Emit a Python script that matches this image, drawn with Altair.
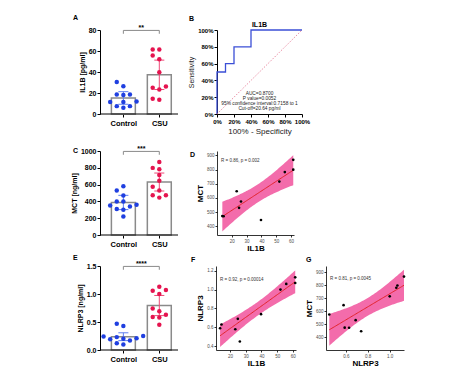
import altair as alt
import numpy as np
import pandas as pd

FONT = "Liberation Sans"

groups = ["Control", "CSU"]

# strip / bar panels (A, C, E)
il1b_control = [30.5, 26.5, 18.5, 18.5, 18.0, 12.0, 11.5, 11.5, 7.5, 7.5, 6.0]
mct_control = [580, 530, 470, 400, 400, 360, 350, 340, 310, 300, 220]
nlrp3_control = [0.47, 0.43, 0.25, 0.24, 0.23, 0.21, 0.20, 0.19, 0.17, 0.12, 0.10]

il1b_csu = [13.6, 14.5, 23.3, 24.9, 26.2, 39.7, 52.1, 55.8, 61.5, 61.5]
mct_csu = [473, 472, 647, 531, 575, 445, 715, 782, 799, 868]
nlrp3_csu = [0.59, 0.63, 0.58, 0.69, 0.45, 0.74, 1.00, 1.06, 1.07, 1.13]

il1b_err = [6.0, 14.0]
mct_err = [85, 107]
nlrp3_err = [0.07, 0.18]

# ROC panel (B)
roc_fpr = [0, 0, 0.1, 0.1, 0.2, 0.2, 0.4, 0.4, 1.0]
roc_tpr = [0, 0.5, 0.5, 0.6, 0.6, 0.8, 0.8, 1.0, 1.0]
roc_title = "IL1B"
roc_text = ["AUC=0.8700", "P value=0.0052",
            "95% confidence interval:0.7158 to 1", "Cut-off=20.64 pg/ml"]

# correlation notes
note_d = "R = 0.86, p = 0.002"
note_f = "R = 0.92, p = 0.00014"
note_g = "R = 0.81, p = 0.0045"

BLUE = "#1f3fe0"
RED = "#e5144f"
BLUE_ERR = "#5f7ff0"
RED_ERR = "#ee4a78"
PINK = "#f25ca2"
LINE_RED = "#e3242b"
ROC_BLUE = "#3b4fd6"
T_975_DF8 = 2.306


def swarm_offsets(values, px_per_unit, step_px=6.6, diam_px=5.4):
    order = np.argsort(values, kind="stable")
    placed = []
    offs = [0] * len(values)
    cands = [0]
    for m in range(1, 8):
        cands += [-m, m]
    for i in order:
        ypx = values[i] * px_per_unit
        chosen = cands[-1]
        for k in cands:
            if all(np.hypot((k - pk) * step_px, ypx - py) >= diam_px for pk, py in placed):
                chosen = k
                break
        placed.append((chosen, ypx))
        offs[i] = chosen
    return offs


def text_layer(txt, x, y, size=7, bold=True, align="left"):
    return alt.Chart(pd.DataFrame({"t": [txt]})).mark_text(
        align=align, baseline="middle", fontWeight="bold" if bold else "normal",
        fontSize=size, font=FONT, color="black"
    ).encode(x=alt.value(x), y=alt.value(y), text="t:N")


def strip_panel(letter, ctrl, csu, err, ymax, ystep, yfmt, ytitle, stars, ly, extra=0):
    W, H = 78, 84
    xdom0 = [-0.65, 1.52]
    pxx = W / (xdom0[1] - xdom0[0])
    xdom = [xdom0[0], xdom0[1] + extra / pxx]
    pxy = H / ymax
    step_units = 6.6 / pxx
    rows = []
    for gi, vals in enumerate([ctrl, csu]):
        offs = swarm_offsets(vals, pxy)
        for v, k in zip(vals, offs):
            rows.append({"x": gi + k * step_units, "y": v, "g": groups[gi]})
    pts = pd.DataFrame(rows)
    means = [float(np.mean(ctrl)), float(np.mean(csu))]
    bars = pd.DataFrame({"g": groups, "i": [0, 1], "mean": means, "err": err,
                         "ec": [BLUE_ERR, RED_ERR]})
    bars["lo"] = bars["i"] - 0.333
    bars["hi"] = bars["i"] + 0.333
    bars["top"] = bars["mean"] + bars["err"]
    bars["bot"] = bars["mean"] - bars["err"]
    bars["cl"] = bars["i"] - 0.14
    bars["cr"] = bars["i"] + 0.14

    xsc = alt.Scale(domain=xdom, nice=False, zero=False)
    ysc = alt.Scale(domain=[0, ymax], nice=False)
    label_expr = f"datum.value == 0 ? '{groups[0]}' : '{groups[1]}'"
    xaxis = alt.Axis(values=[0, 1], labelExpr=label_expr, title=None, grid=False,
                     labelFontSize=7.5, labelFontWeight="bold", labelColor="black",
                     tickSize=3, tickColor="black", domain=False, labelPadding=2,
                     labelOverlap=False, labelFlush=False)
    yvals = [float(v) for v in np.arange(0, ymax + ystep / 2, ystep)]
    yaxis = alt.Axis(values=yvals, format=yfmt, title=ytitle, grid=False,
                     labelFontSize=7, labelFontWeight="bold", labelColor="black",
                     titleFontSize=7, titleFontWeight="bold", titleColor="black",
                     tickSize=3, tickColor="black", domainColor="black",
                     labelPadding=1, titlePadding=3, labelOverlap=False, labelFlush=False)
    color = alt.Color("g:N", scale=alt.Scale(domain=groups, range=[BLUE, RED]), legend=None)
    ecolor = alt.Color("ec:N", scale=None)
    xs = dict(scale=xsc, axis=xaxis)
    ys = dict(scale=ysc, axis=yaxis)

    bar = alt.Chart(bars).mark_bar(fill="white", stroke="#8a8a8a", strokeWidth=1.5).encode(
        x=alt.X("lo:Q", **xs), x2="hi:Q", y=alt.Y("mean:Q", **ys), y2=alt.datum(0))
    baseline = alt.Chart(pd.DataFrame({"a": [0]})).mark_rule(color="black", strokeWidth=1).encode(
        x=alt.value(0), x2=alt.value(W), y=alt.value(H))
    ev = alt.Chart(bars).mark_rule(strokeWidth=1).encode(
        x=alt.X("i:Q", **xs), y=alt.Y("bot:Q", **ys), y2="top:Q", color=ecolor)
    ec1 = alt.Chart(bars).mark_rule(strokeWidth=1).encode(
        x=alt.X("cl:Q", **xs), x2="cr:Q", y=alt.Y("top:Q", **ys), color=ecolor)
    ec2 = alt.Chart(bars).mark_rule(strokeWidth=1).encode(
        x=alt.X("cl:Q", **xs), x2="cr:Q", y=alt.Y("bot:Q", **ys), color=ecolor)
    dots = alt.Chart(pts).mark_circle(size=20, opacity=1).encode(
        x=alt.X("x:Q", **xs), y=alt.Y("y:Q", **ys), color=color)

    by = ymax * 0.995
    bd = ymax * 0.04
    br = pd.DataFrame({"x": [0, 0, 1, 1], "y": [by - bd, by, by, by - bd], "o": [0, 1, 2, 3]})
    bracket = alt.Chart(br).mark_line(color="#8a8a8a", strokeWidth=1).encode(
        x=alt.X("x:Q", **xs), y=alt.Y("y:Q", **ys), order="o:Q")
    st = alt.Chart(pd.DataFrame({"s": [stars], "x": [0.5], "y": [by]})).mark_text(
        fontSize=7, fontWeight="bold", baseline="bottom", dy=1, font=FONT, color="black").encode(
        x=alt.X("x:Q", **xs), y=alt.Y("y:Q", **ys), text="s:N")
    return alt.layer(bar, baseline, ev, ec1, ec2, dots, bracket, st,
                     text_layer(letter, -27, ly)).properties(width=W + extra, height=H)


def scatter_panel(letter, xv, yv, xdom, ydom, xticks, yticks, xfmt, yfmt, xtitle, ytitle,
                  note, W, H, lx, ly, ny):
    x = np.array(xv, dtype=float)
    y = np.array(yv, dtype=float)
    n = len(x)
    b, a = np.polyfit(x, y, 1)
    grid = np.linspace(x.min(), x.max(), 60)
    fit = a + b * grid
    resid = y - (a + b * x)
    s = np.sqrt(np.sum(resid ** 2) / (n - 2))
    sxx = np.sum((x - x.mean()) ** 2)
    se = s * np.sqrt(1.0 / n + (grid - x.mean()) ** 2 / sxx)
    band = pd.DataFrame({"x": grid, "fit": fit, "lo": fit - T_975_DF8 * se, "hi": fit + T_975_DF8 * se})
    pts = pd.DataFrame({"x": x, "y": y})

    xsc = alt.Scale(domain=xdom, nice=False, zero=False)
    ysc = alt.Scale(domain=ydom, nice=False, zero=False)
    common = dict(grid=False, labelFontSize=4.5, labelColor="#4d4d4d", tickSize=2,
                  tickColor="#333333", domainColor="black", domainWidth=0.8,
                  titleFontSize=8, titleFontWeight="bold", titleColor="black",
                  labelPadding=1, titlePadding=2, labelOverlap=False, labelFlush=False)
    xaxis = alt.Axis(values=xticks, format=xfmt, title=xtitle, **common)
    yaxis = alt.Axis(values=yticks, format=yfmt, title=ytitle, **common)
    xs = dict(scale=xsc, axis=xaxis)
    ys = dict(scale=ysc, axis=yaxis)

    area = alt.Chart(band).mark_area(color=PINK, opacity=0.9).encode(
        x=alt.X("x:Q", **xs), y=alt.Y("lo:Q", **ys), y2="hi:Q")
    line = alt.Chart(band).mark_line(color=LINE_RED, strokeWidth=1).encode(
        x=alt.X("x:Q", **xs), y=alt.Y("fit:Q", **ys))
    dots = alt.Chart(pts).mark_circle(size=7, color="black", opacity=1).encode(
        x=alt.X("x:Q", **xs), y=alt.Y("y:Q", **ys))
    txt = alt.Chart(pd.DataFrame({"t": [note]})).mark_text(
        align="left", baseline="middle", fontSize=4.5, font=FONT, color="#333333").encode(
        x=alt.value(4), y=alt.value(ny), text="t:N")
    return alt.layer(area, line, dots, txt, text_layer(letter, lx, ly)).properties(width=W, height=H)


def roc_panel():
    W, H = 85, 84
    roc = pd.DataFrame({"fpr": roc_fpr, "tpr": roc_tpr, "o": list(range(len(roc_fpr)))})
    diag = pd.DataFrame({"fpr": [0.0, 1.0], "tpr": [0.0, 1.0]})
    xsc = alt.Scale(domain=[0, 1], nice=False)
    ysc = alt.Scale(domain=[0, 1], nice=False)
    ticks = [0, 0.2, 0.4, 0.6, 0.8, 1.0]
    common = dict(grid=False, format=".0%", values=ticks, labelFontSize=6, labelFontWeight="bold",
                  labelColor="black", tickSize=3, tickColor="black", domainColor="black",
                  titleFontWeight="normal", titleColor="#222222", labelPadding=1,
                  labelOverlap=False, labelFlush=False)
    xaxis = alt.Axis(title="100% - Specificity", titleFontSize=8, titlePadding=3, **common)
    yaxis = alt.Axis(title="Sensitivity", titleFontSize=7, titlePadding=3, **common)
    curve = alt.Chart(roc).mark_line(color=ROC_BLUE, strokeWidth=1.3).encode(
        x=alt.X("fpr:Q", scale=xsc, axis=xaxis), y=alt.Y("tpr:Q", scale=ysc, axis=yaxis), order="o:Q")
    dline = alt.Chart(diag).mark_line(color="#e06080", strokeWidth=0.7, strokeDash=[1.5, 1.5]).encode(
        x=alt.X("fpr:Q", scale=xsc, axis=xaxis), y=alt.Y("tpr:Q", scale=ysc, axis=yaxis))
    txt = alt.Chart(pd.DataFrame({"t": ["\n".join(roc_text)]})).mark_text(
        align="center", baseline="top", fontSize=4.8, lineHeight=5.0, lineBreak="\n",
        font=FONT, color="#222222").encode(
        x=alt.value(W / 2), y=alt.value(H * 0.73), text="t:N")
    return alt.layer(curve, dline, txt, text_layer("B", -28, -11),
                     text_layer(roc_title, W / 2, -5, align="center")).properties(width=W, height=H)


A = strip_panel("A", il1b_control, il1b_csu, il1b_err, 80, 20, "d", "IL1B [pg/ml]", "**", -12)
C = strip_panel("C", mct_control, mct_csu, mct_err, 1000, 200, "d", "MCT [ng/ml]", "***", 0)
E = strip_panel("E", nlrp3_control, nlrp3_csu, nlrp3_err, 1.5, 0.5, ".1f", "NLRP3 [ng/ml]", "****", -8,
                extra=8)
B = roc_panel()
D = scatter_panel("D", il1b_csu, mct_csu, [10, 62], [340, 930], [20, 30, 40, 50, 60],
                  [400, 500, 600, 700, 800, 900], "d", "d", "IL1B", "MCT", note_d, 77, 84, -27, 4, 10)
F = scatter_panel("F", il1b_csu, nlrp3_csu, [11, 62], [0.36, 1.25], [20, 30, 40, 50, 60],
                  [0.4, 0.6, 0.8, 1.0, 1.2], "d", ".1f", "IL1B", "NLRP3", note_f, 80, 84, -25, -6, 14)
G = scatter_panel("G", nlrp3_csu, mct_csu, [0.42, 1.13], [300, 950], [0.6, 0.8, 1.0],
                  [400, 500, 600, 700, 800, 900], ".1f", "d", "NLRP3", "MCT", note_g, 78, 84, -20, -6, 13)

row1 = alt.hconcat(A, B, spacing=39, bounds="flush")
row2 = alt.hconcat(C, D, spacing=39, bounds="flush")
row3 = alt.hconcat(E, F, G, spacing=30, bounds="flush")
chart = alt.vconcat(alt.vconcat(row1, row2, spacing=10), row3, spacing=1).properties(
    padding={"left": 62, "top": 6, "right": 5, "bottom": 5}
).configure_view(stroke=None).configure_axis(
    labelFont=FONT, titleFont=FONT, labelOverlap=False, labelFlush=False
).configure_title(font=FONT)

chart.save("out.html", embed_options={"renderer": "svg", "actions": False})
